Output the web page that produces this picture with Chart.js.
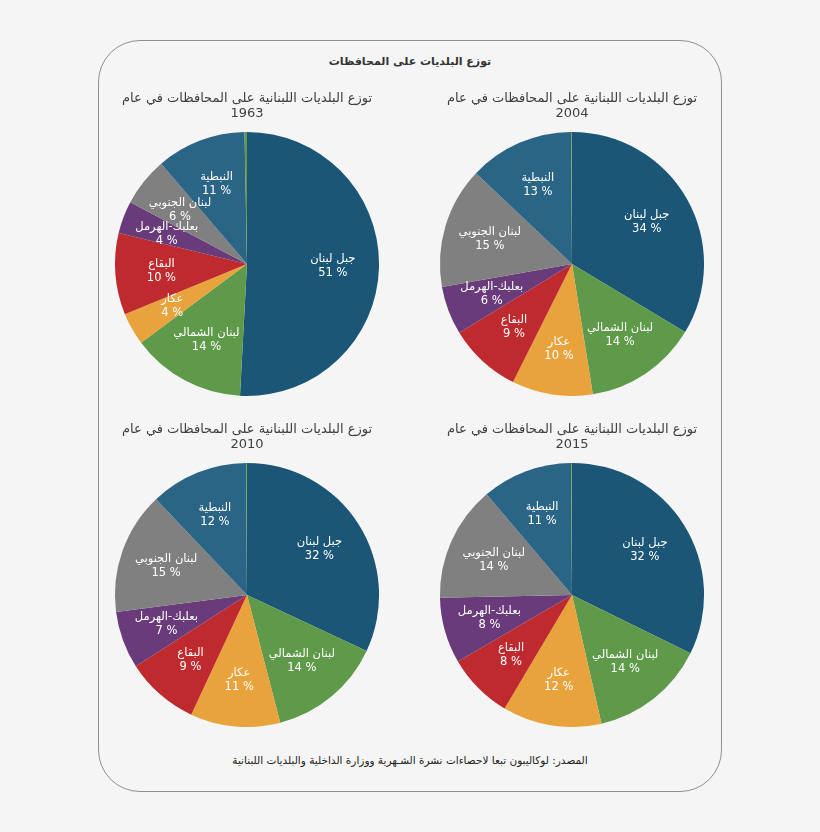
<!DOCTYPE html>
<html lang="ar">
<head>
<meta charset="utf-8">
<title>توزع البلديات على المحافظات</title>
<script src="https://cdn.jsdelivr.net/npm/chart.js@4/dist/chart.umd.min.js"></script>
<style>
  html, body { margin: 0; padding: 0; background: #f5f5f5; }
  body { width: 820px; height: 832px; position: relative; overflow: hidden; font-family: "DejaVu Sans", sans-serif; }
  .frame {
    position: absolute; left: 98px; top: 40px; width: 622px; height: 750px;
    border: 1px solid #8f8f8f; border-radius: 42px; box-sizing: content-box;
  }
  .main-title {
    position: absolute; left: 0; width: 820px; top: 55px; text-align: center;
    font-size: 11px; font-weight: bold; color: #333;
  }
  .source {
    position: absolute; left: 0; width: 820px; top: 754px; text-align: center;
    font-size: 10.5px; color: #222;
  }
  .pie { position: absolute; width: 300px; height: 310px; }
</style>
</head>
<body>
<div class="frame"></div>
<div class="main-title" dir="rtl">توزع البلديات على المحافظات</div>

<div class="pie" style="left:97px; top:86px"><canvas id="c1963"></canvas></div>
<div class="pie" style="left:422px; top:86px"><canvas id="c2004"></canvas></div>
<div class="pie" style="left:97px; top:417px"><canvas id="c2010"></canvas></div>
<div class="pie" style="left:422px; top:417px"><canvas id="c2015"></canvas></div>

<div class="source" dir="rtl">المصدر: لوكاليبون تبعا لاحصاءات نشرة الشـهرية ووزارة الداخلية والبلديات اللبنانية</div>

<script>
// المحافظات بالترتيب (من الساعة 12 باتجاه عقارب الساعة)
const categories = ['جبل لبنان', 'لبنان الشمالي', 'عكار', 'البقاع', 'بعلبك-الهرمل', 'لبنان الجنوبي', 'النبطية', 'بيروت'];
const colors = ['#1b5676', '#5e9a4a', '#e8a33d', '#bf2a2f', '#6a3b7a', '#808080', '#2a6586', '#5e9a4a'];

// النسب المئوية لكل سنة
const values1963 = [51, 14, 4, 10, 4, 6, 11, 0.3];
const values2004 = [34, 14, 10, 9, 6, 15, 13, 0.1];
const values2010 = [32, 14, 11, 9, 7, 15, 12, 0.1];
const values2015 = [32, 14, 12, 8, 8, 14, 11, 0.1];

const titleText = 'توزع البلديات اللبنانية على المحافظات في عام';

// يكتب اسم المحافظة والنسبة داخل كل شريحة
const sliceLabels = {
  id: 'sliceLabels',
  afterDatasetsDraw(chart) {
    const { ctx } = chart;
    const meta = chart.getDatasetMeta(0);
    const data = chart.data.datasets[0].data;
    ctx.save();
    ctx.fillStyle = '#ffffff';
    ctx.textAlign = 'center';
    ctx.textBaseline = 'middle';
    ctx.font = '11.5px "DejaVu Sans", sans-serif';
    meta.data.forEach((arc, i) => {
      const v = data[i];
      if (v < 1) return;
      const mid = (arc.startAngle + arc.endAngle) / 2;
      const r = arc.outerRadius * 0.65;
      const x = arc.x + Math.cos(mid) * r;
      const y = arc.y + Math.sin(mid) * r;
      ctx.fillText(chart.data.labels[i], x, y - 7);
      ctx.fillText(`${v} %`, x, y + 7);
    });
    ctx.restore();
  }
};

function makePie(id, year, values) {
  new Chart(document.getElementById(id), {
    type: 'pie',
    data: {
      labels: categories,
      datasets: [{
        data: values,
        backgroundColor: colors,
        borderWidth: 0,
      }]
    },
    options: {
      responsive: true,
      maintainAspectRatio: false,
      animation: false,
      layout: { padding: 0 },
      plugins: {
        legend: { display: false },
        tooltip: { enabled: false },
        title: {
          display: true,
          text: [titleText, year],
          color: '#404040',
          font: { family: '"DejaVu Sans", sans-serif', size: 13, weight: 'normal', lineHeight: 1.15 },
          padding: { top: 5, bottom: 11 },
        }
      }
    },
    plugins: [sliceLabels]
  });
}

makePie('c1963', '1963', values1963);
makePie('c2004', '2004', values2004);
makePie('c2010', '2010', values2010);
makePie('c2015', '2015', values2015);
</script>
</body>
</html>
